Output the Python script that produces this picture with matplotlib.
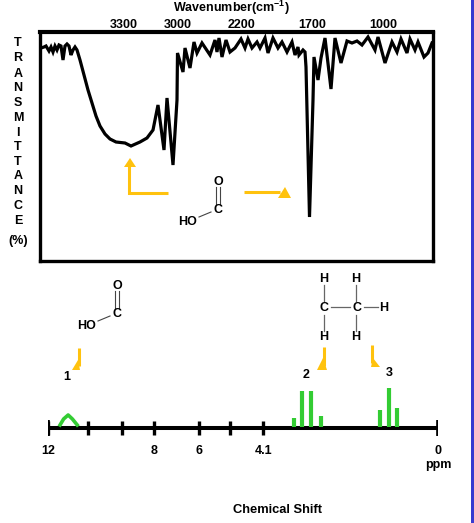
import matplotlib
matplotlib.use("Agg")
import matplotlib.pyplot as plt
from matplotlib.patches import Polygon, Rectangle

W, H = 474, 523
plt.rcParams['font.family'] = ['Liberation Sans', 'DejaVu Sans']
plt.rcParams['mathtext.default'] = 'regular'

# IR trace: position along the frame, depth below frame top
ir_pos = [1, 4, 6, 9, 11, 13, 15, 17, 19, 21, 23, 25, 27, 29, 31, 33, 35, 37, 40, 44,
          48, 52, 56, 60, 65, 70, 76, 85, 91, 100, 107, 113, 118, 124, 127, 133, 137, 137.5, 143, 145,
          150, 154, 157, 162, 170, 175, 177, 179, 182, 186, 190, 195, 201, 205, 208, 212, 217, 220, 225, 228,
          233, 238, 242, 247, 252, 255, 258, 259, 263, 265, 266, 269.5, 273, 274, 278, 281, 285, 291, 295, 301,
          307, 312, 317, 322, 328, 335, 338, 345, 352, 357, 361, 367, 370, 375, 378, 384, 388, 392]
ir_depth = [16, 15, 14, 19, 15, 20, 14, 18, 13, 14, 28, 14, 12, 14, 23, 18, 15, 18, 28, 43,
            58, 71, 84, 94, 102, 107, 110, 111, 114, 110, 106, 98, 73, 118, 66, 133, 68, 21, 40, 16,
            36, 10, 21, 11, 23, 8, 20, 6, 25, 8, 20, 16, 7, 16, 7, 16, 10, 16, 6, 21,
            6, 16, 10, 20, 10, 23, 15, 23, 18, 20, 35, 185, 68, 25, 48, 26, 6, 57, 6, 31,
            9, 11, 9, 13, 5, 18, 5, 31, 10, 20, 7, 21, 7, 18, 10, 25, 21, 11]
ir_tick_pos = [84, 138, 202, 272, 343]
ir_tick_labels = ['3300', '3000', '2200', '1700', '1000']
ylabel_letters = list('TRANSMITTANCE')
ylabel_y = [43, 58, 74, 88, 103, 118, 133, 147, 162, 176, 191, 206, 221]

# NMR stick spectrum
nmr_ticks = [12, 10.77, 9.72, 8.74, 7.35, 6.4, 5.37, 0]
nmr_labels = ['12', '', '', '8', '6', '', '4.1', '0']
stick_ppm = [4.43, 4.18, 3.91, 3.6, 1.78, 1.51, 1.26]
stick_height = [10, 37, 37, 12, 18, 40, 20]
broad_ppm = [11.63, 11.52, 11.38, 11.25, 11.1]
broad_height = [3, 9, 13, 9, 3]

YELLOW = '#ffc20e'
GREEN = '#33cc33'


def px_axes(fig, left, top, right, bottom):
    return fig.add_axes([left / W, 1 - bottom / H, (right - left) / W, (bottom - top) / H])


def bold(ax, x, y, s, size=9):
    ax.text(x, y, s, fontsize=size, fontweight='bold', ha='center', va='center', color='black')


def arrow(ax, pts, head):
    ax.plot(*zip(*pts), color=YELLOW, lw=2.2, solid_capstyle='butt', solid_joinstyle='miter')
    ax.add_patch(Polygon(head, closed=True, color=YELLOW, lw=0))


def acid(ax, cx, oy):
    bold(ax, cx, oy, 'O', 9)
    bold(ax, cx, oy + 28, 'C', 9)
    bold(ax, cx - 30, oy + 40, 'HO', 9)
    ax.plot([cx - 2, cx - 2], [oy + 5, oy + 22], color='#444444', lw=0.8)
    ax.plot([cx + 2, cx + 2], [oy + 5, oy + 22], color='#444444', lw=0.8)
    ax.plot([cx - 19, cx - 7], [oy + 35, oy + 30], color='#444444', lw=0.8)


fig = plt.figure(figsize=(W / 100, H / 100), dpi=100, facecolor='white')

# IR panel
ir = px_axes(fig, 40, 32, 433, 261)
ir.set_xlim(0, 393)
ir.set_ylim(229, 0)
ir.plot(ir_pos, ir_depth, color='black', lw=2.3, solid_joinstyle='miter')
for s in ir.spines.values():
    s.set_linewidth(2.4)
ir.spines['top'].set_linewidth(3)
ir.set_yticks([])
ir.xaxis.tick_top()
ir.set_xticks(ir_tick_pos)
ir.set_xticklabels(ir_tick_labels, fontsize=9, fontweight='bold')
ir.tick_params(axis='x', length=0, pad=1)

# NMR panel
nmr = px_axes(fig, 48, 360, 438, 460)
nmr.set_xlim(12, 0)
nmr.set_ylim(-32, 68)
nmr.axis('off')
nmr.plot([12, 0], [0, 0], color='black', lw=2.9, solid_capstyle='butt')
nmr.vlines(nmr_ticks, -7, 7, color='black', lw=2.4)
nmr.vlines([12, 0], -8, 8, color='black', lw=2.6)
nmr.vlines(stick_ppm, 1, stick_height, color=GREEN, lw=3)
nmr.plot(broad_ppm, broad_height, color=GREEN, lw=2.6)
for t, lab in zip(nmr_ticks, nmr_labels):
    nmr.text(t, -23, lab, fontsize=9, fontweight='bold', ha='center', va='center')

# everything else is placed in picture pixels
ov = fig.add_axes([0, 0, 1, 1], facecolor='none')
ov.set_xlim(0, W)
ov.set_ylim(H, 0)
ov.axis('off')
ov.add_patch(Rectangle((471, 0), 3, H, color='#3a3ad0', lw=0))

bold(ov, 231, 8, 'Wavenumber(cm$^{-1}$)', 9)
for letter, y in zip(ylabel_letters, ylabel_y):
    bold(ov, 18, y, letter)
bold(ov, 18, 241, '(%)', 9)
bold(ov, 438, 465, 'ppm', 9)
bold(ov, 278, 510, 'Chemical Shift', 9.3)
bold(ov, 67, 377, '1', 9)
bold(ov, 306, 375, '2', 9)
bold(ov, 389, 373, '3', 9)

acid(ov, 218, 182)
acid(ov, 117, 286)

# ethyl fragment
for x, y, s in [(324, 279, 'H'), (356, 279, 'H'), (324, 308, 'C'), (357, 308, 'C'),
                (384, 308, 'H'), (324, 337, 'H'), (356, 337, 'H')]:
    bold(ov, x, y, s, 9)
for xs, ys in [((324, 324), (285, 301)), ((356, 356), (285, 301)), ((331, 350), (307, 307)),
               ((364, 378), (307, 307)), ((324, 324), (315, 331)), ((356, 356), (315, 331))]:
    ov.plot(xs, ys, color='#666666', lw=0.9)

arrow(ov, [(168, 193), (129, 193), (129, 165)], [(124, 167), (136, 167), (130, 158)])
arrow(ov, [(244, 192), (280, 192)], [(285, 187), (291, 198), (278, 198)])
arrow(ov, [(79, 348), (79, 366)], [(72, 370), (80, 370), (78, 360)])
arrow(ov, [(324, 347), (324, 366)], [(317, 370), (327, 370), (323, 358)])
arrow(ov, [(372, 345), (372, 363)], [(371, 367), (380, 367), (373, 358)])

fig.savefig('out.png', dpi=100)
